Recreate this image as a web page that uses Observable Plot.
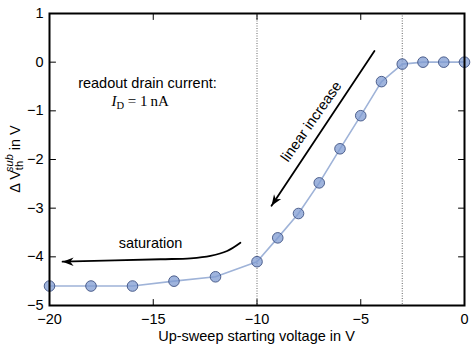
<!DOCTYPE html>
<html>
<head>
<meta charset="utf-8">
<script src="https://cdn.jsdelivr.net/npm/d3@7"></script>
<script src="https://cdn.jsdelivr.net/npm/@observablehq/plot@0.6"></script>
<style>
  html, body { margin: 0; padding: 0; background: #fff; }
  svg { display: block; }
</style>
</head>
<body>
<div id="chart"></div>
<script>
// Data
const sweepStart = [-20, -18, -16, -14, -12, -10, -9, -8, -7, -6, -5, -4, -3, -2, -1, 0];
const deltaVth   = [-4.6, -4.6, -4.6, -4.5, -4.41, -4.1, -3.61, -3.11, -2.48, -1.78, -1.1, -0.4, -0.04, 0, 0, 0];
const xTicks = [-20, -15, -10, -5, 0];
const yTicks = [-5, -4, -3, -2, -1, 0, 1];
const markerLines = [-10, -3];
// Annotations
const linArrowX = [-4.34, -9.3];
const linArrowY = [0.23, -2.95];
const satArrowX = [-10.8, -11.44, -12.24, -13.2, -14.65, -19.37];
const satArrowY = [-3.71, -3.88, -3.98, -4.03, -4.05, -4.10];
const notes = [
  {x: -15.28, y: -0.44, text: "readout drain current:", rot: 0},
  {x: -15.13, y: -3.72, text: "saturation", rot: 0},
  {x: -7.38, y: -1.22, text: "linear increase", rot: -55}
];

const pts = sweepStart.map((x, i) => ({x, y: deltaVth[i]}));
const linArrow = linArrowX.map((x, i) => ({x, y: linArrowY[i]}));
const satArrow = satArrowX.map((x, i) => ({x, y: satArrowY[i]}));

const W = 474, H = 351, mL = 49, mR = 10, mT = 13, mB = 46;
const FS = 14.5;

const lineShape = {draw(c, l) { c.moveTo(0, 0); c.lineTo(0, -l); }};
const headShape = {draw(c, l) {
  c.moveTo(0, -l); c.lineTo(-4.3, 0); c.lineTo(0, -l * 0.3); c.lineTo(4.3, 0); c.closePath();
}};

const font = "'Liberation Sans', Arial, Helvetica, sans-serif";

const chart = Plot.plot({
  width: W, height: H,
  marginLeft: mL, marginRight: mR, marginTop: mT, marginBottom: mB,
  style: {fontFamily: font, fontSize: FS + "px", background: "#fff", color: "#000"},
  x: {domain: [-20, 0], ticks: xTicks},
  y: {domain: [-5, 1], ticks: yTicks},
  marks: [
    Plot.ruleX(markerLines, {stroke: "#666", strokeDasharray: "1,1.5", strokeWidth: 1}),
    Plot.axisX(xTicks, {anchor: "bottom", tickSize: 0, tickPadding: 8, label: null, fontSize: FS}),
    Plot.axisY(yTicks, {anchor: "left", tickSize: 0, tickPadding: 6, label: null, fontSize: FS}),
    // inward ticks
    Plot.vector(xTicks, {x: d => d, y: -5, length: 6, anchor: "start", rotate: 0, shape: lineShape, stroke: "#000", strokeWidth: 1}),
    Plot.vector(xTicks, {x: d => d, y: 1, length: 6, anchor: "start", rotate: 180, shape: lineShape, stroke: "#000", strokeWidth: 1}),
    Plot.vector(yTicks, {x: -20, y: d => d, length: 6, anchor: "start", rotate: 90, shape: lineShape, stroke: "#000", strokeWidth: 1}),
    Plot.vector(yTicks, {x: 0, y: d => d, length: 6, anchor: "start", rotate: -90, shape: lineShape, stroke: "#000", strokeWidth: 1}),
    // series
    Plot.line(pts, {x: "x", y: "y", stroke: "#9fb3d8", strokeWidth: 1.6}),
    Plot.dot(pts, {x: "x", y: "y", r: 5.3, fill: "#7f9bd2", fillOpacity: 0.75, stroke: "#3f5282", strokeWidth: 0.9}),
    // annotation arrows
    Plot.line(linArrow, {x: "x", y: "y", stroke: "#000", strokeWidth: 1.8}),
    Plot.vector(linArrow.slice(1), {x: "x", y: "y", length: 11, anchor: "end", rotate: 213.6, shape: headShape, fill: "#000", stroke: "none"}),
    Plot.line(satArrow, {x: "x", y: "y", curve: "catmull-rom", stroke: "#000", strokeWidth: 1.8}),
    Plot.vector(satArrow.slice(-1), {x: "x", y: "y", length: 11, anchor: "end", rotate: -90, shape: headShape, fill: "#000", stroke: "none"}),
    Plot.text(notes, {x: "x", y: "y", text: "text", rotate: "rot", fontSize: FS, fill: "#000"}),
    Plot.frame({stroke: "#000", strokeWidth: 2})
  ]
});

const svg = d3.select(chart);
// I_D = 1 nA (serif math)
const xs = d3.scaleLinear().domain([-20, 0]).range([mL, W - mR]);
const ys = d3.scaleLinear().domain([-5, 1]).range([H - mB, mT]);
const eq = svg.append("text")
  .attr("x", xs(-15.61)).attr("y", ys(-0.92))
  .attr("text-anchor", "middle")
  .attr("font-family", "'Liberation Serif', 'DejaVu Serif', serif")
  .attr("font-size", 15).attr("fill", "#000");
eq.append("tspan").attr("font-style", "italic").text("I");
eq.append("tspan").attr("font-size", 10.5).attr("dy", 3).text("D");
eq.append("tspan").attr("dy", -3).text(" = 1\u2009nA");

// x axis label
svg.append("text")
  .attr("x", (mL + W - mR) / 2).attr("y", 341)
  .attr("text-anchor", "middle")
  .attr("font-family", font).attr("font-size", FS).attr("fill", "#000")
  .text("Up-sweep starting voltage in V");

// y axis label
const yl = svg.append("text")
  .attr("transform", `translate(20,${(mT + H - mB) / 2}) rotate(-90)`)
  .attr("text-anchor", "middle")
  .attr("font-family", font).attr("font-size", FS).attr("fill", "#000");
yl.append("tspan").text("\u0394 V");
yl.append("tspan").attr("font-size", 11).attr("dy", 3).text("th");
yl.append("tspan").attr("font-size", 11).attr("font-style", "italic").attr("dx", -11).attr("dy", -10).text("sub");
yl.append("tspan").attr("dy", 7).text(" in V");

document.getElementById("chart").appendChild(chart);
</script>
</body>
</html>
